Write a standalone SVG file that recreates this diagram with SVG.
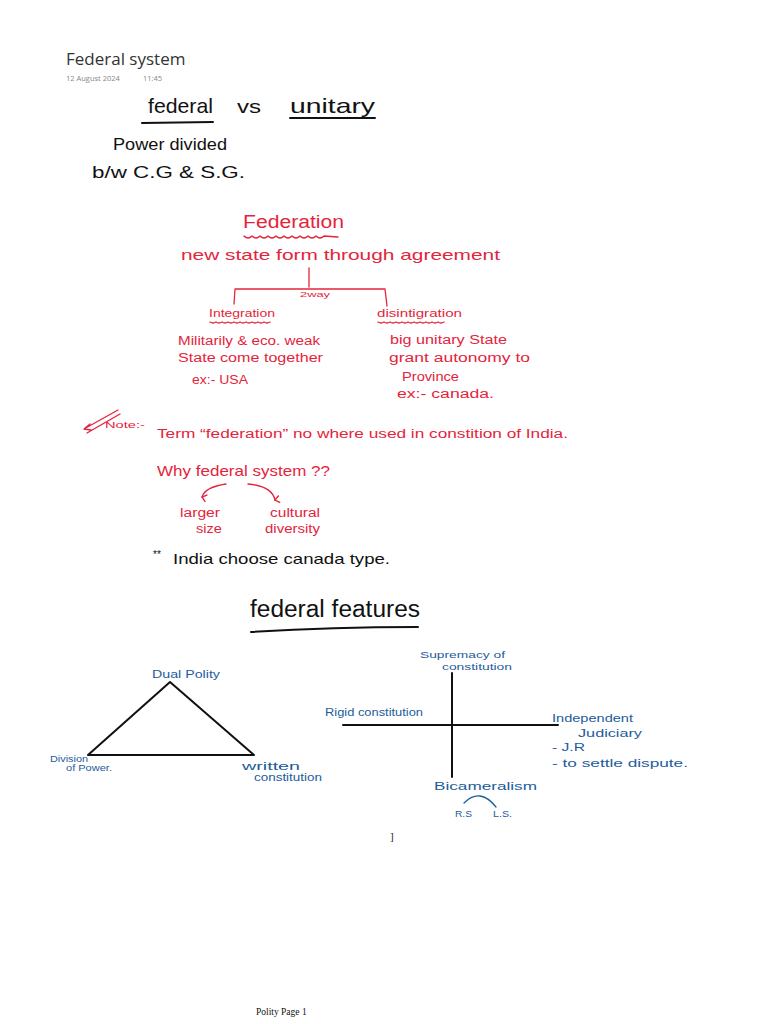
<svg xmlns="http://www.w3.org/2000/svg" width="768" height="1024" viewBox="0 0 768 1024">
<style>
.hd{font-family:"Liberation Sans","Open Sans",sans-serif}
.k{fill:#111}
.r{fill:#e5243b}
.b{fill:#1d5c9c}
.ln{fill:none;stroke-linecap:round;stroke-linejoin:round}
.rs{stroke:#e5243b;stroke-width:1.3}
.bs{stroke:#1d5c9c;stroke-width:1.3}
.ks{stroke:#111;stroke-width:2}
</style>
<defs>
<marker id="ah" viewBox="0 0 10 10" refX="5" refY="8" markerWidth="7" markerHeight="7" orient="auto-start-reverse">
<path d="M1,3 L5,8 L9,3" fill="none" stroke="#e5243b" stroke-width="1.5"/>
</marker>
</defs>
<rect width="768" height="1024" fill="#fff"/>

<g id="header">
<text x="66" y="65" font-family="'Open Sans','Liberation Sans',sans-serif" font-size="17" fill="#333">Federal system</text>
<text x="66" y="81" font-family="'Open Sans','Liberation Sans',sans-serif" font-size="7.5" fill="#888">12 August 2024</text>
<text x="143" y="81" font-family="'Open Sans','Liberation Sans',sans-serif" font-size="7.5" fill="#888">11:45</text>
</g>

<g id="title1" class="hd k">
<text x="148" y="113" font-size="21" textLength="65" lengthAdjust="spacingAndGlyphs">federal</text>
<text x="237" y="113" font-size="18" textLength="24" lengthAdjust="spacingAndGlyphs">vs</text>
<text x="290" y="113" font-size="21" textLength="85" lengthAdjust="spacingAndGlyphs">unitary</text>
<path class="ln ks" d="M142,123 L213,122 M290,118 L375,118" stroke-width="1.6"/>
</g>

<g id="power" class="hd k">
<text x="113" y="150" font-size="17" textLength="114" lengthAdjust="spacingAndGlyphs">Power divided</text>
<text x="92" y="178" font-size="17" textLength="153" lengthAdjust="spacingAndGlyphs">b/w  C.G &amp; S.G.</text>
</g>

<g id="federation" class="hd r">
<text x="243" y="228" font-size="18" textLength="101" lengthAdjust="spacingAndGlyphs">Federation</text>
<path class="ln rs" d="M244,236 q4,4 8,0 q4,4 8,0 q4,4 8,0 q4,4 8,0 q4,4 8,0 q4,4 8,0 q4,4 8,0 q4,4 8,0 q4,4 8,0 q4,4 8,0 L338,237"/>
<text x="181" y="260" font-size="15" textLength="319" lengthAdjust="spacingAndGlyphs">new state form through agreement</text>
</g>

<g id="integration" class="hd r">
<text x="209" y="317" font-size="11" textLength="66" lengthAdjust="spacingAndGlyphs">Integration</text>
<path class="ln rs" d="M210,322 q3,2 6,0 q3,2 6,0 q3,2 6,0 q3,2 6,0 q3,2 6,0 q3,2 6,0 q3,2 6,0 q3,2 6,0 q3,2 6,0 q3,2 6,0" stroke-width="1"/>
<text x="178" y="345" font-size="12" textLength="142" lengthAdjust="spacingAndGlyphs">Militarily &amp; eco. weak</text>
<text x="178" y="362" font-size="12" textLength="145" lengthAdjust="spacingAndGlyphs">State come together</text>
<text x="192" y="384" font-size="12" textLength="56" lengthAdjust="spacingAndGlyphs">ex:- USA</text>
</g>

<g id="disintegration" class="hd r">
<text x="377" y="317" font-size="11" textLength="85" lengthAdjust="spacingAndGlyphs">disintigration</text>
<path class="ln rs" d="M378,322 q3,2 6,0 q3,2 6,0 q3,2 6,0 q3,2 6,0 q3,2 6,0 q3,2 6,0 q3,2 6,0 q3,2 6,0 q3,2 6,0 q3,2 6,0 q3,2 6,0" stroke-width="1"/>
<text x="390" y="344" font-size="12" textLength="117" lengthAdjust="spacingAndGlyphs">big unitary State</text>
<text x="389" y="362" font-size="12" textLength="141" lengthAdjust="spacingAndGlyphs">grant autonomy to</text>
<text x="402" y="381" font-size="12" textLength="57" lengthAdjust="spacingAndGlyphs">Province</text>
<text x="397" y="398" font-size="12" textLength="97" lengthAdjust="spacingAndGlyphs">ex:- canada.</text>
</g>

<g id="note" class="hd r">
<path class="ln rs" d="M84,429 L118,410 M87,433 L120,414 M84,429 L90,424 M84,429 L91,430"/>
<text x="105" y="428" font-size="9" textLength="40" lengthAdjust="spacingAndGlyphs">Note:-</text>
<text x="157" y="438" font-size="12.5" textLength="411" lengthAdjust="spacingAndGlyphs">Term “federation” no where used in  constition of India.</text>
</g>

<g id="why" class="hd r">
<text x="157" y="476" font-size="15" textLength="173" lengthAdjust="spacingAndGlyphs">Why federal system ??</text>
<text x="180" y="517" font-size="12" textLength="40" lengthAdjust="spacingAndGlyphs">larger</text>
<text x="196" y="533" font-size="12" textLength="26" lengthAdjust="spacingAndGlyphs">size</text>
<text x="270" y="517" font-size="12" textLength="50" lengthAdjust="spacingAndGlyphs">cultural</text>
<text x="265" y="533" font-size="12" textLength="55" lengthAdjust="spacingAndGlyphs">diversity</text>
</g>

<g id="india" class="hd k">
<text x="153" y="558" font-size="10">**</text>
<text x="173" y="564" font-size="15" textLength="217" lengthAdjust="spacingAndGlyphs">India  choose canada type.</text>
</g>

<g id="features" class="hd k">
<text x="250" y="617" font-size="23" textLength="170" lengthAdjust="spacingAndGlyphs">federal features</text>
<path class="ln ks" d="M251,632 Q330,627 418,627" stroke-width="1.8"/>
</g>

<g id="triangle-labels" class="hd b">
<text x="152" y="678" font-size="10" textLength="68" lengthAdjust="spacingAndGlyphs">Dual Polity</text>
<text x="50" y="762" font-size="9" textLength="38" lengthAdjust="spacingAndGlyphs">Division</text>
<text x="66" y="771" font-size="9" textLength="46" lengthAdjust="spacingAndGlyphs">of Power.</text>
<text x="242" y="770" font-size="10" textLength="58" lengthAdjust="spacingAndGlyphs">written</text>
<text x="254" y="781" font-size="10" textLength="68" lengthAdjust="spacingAndGlyphs">constitution</text>
</g>

<g id="cross-labels" class="hd b">
<text x="420" y="658" font-size="9" textLength="85" lengthAdjust="spacingAndGlyphs">Supremacy of</text>
<text x="442" y="670" font-size="9" textLength="70" lengthAdjust="spacingAndGlyphs">constitution</text>
<text x="325" y="716" font-size="10" textLength="98" lengthAdjust="spacingAndGlyphs">Rigid constitution</text>
<text x="552" y="722" font-size="10" textLength="81" lengthAdjust="spacingAndGlyphs">Independent</text>
<text x="578" y="737" font-size="10" textLength="64" lengthAdjust="spacingAndGlyphs">Judiciary</text>
<text x="552" y="751" font-size="10" textLength="33" lengthAdjust="spacingAndGlyphs">- J.R</text>
<text x="552" y="767" font-size="10" textLength="136" lengthAdjust="spacingAndGlyphs">- to settle dispute.</text>
<text x="434" y="790" font-size="11" textLength="103" lengthAdjust="spacingAndGlyphs">Bicameralism</text>
<text x="455" y="817" font-size="9" textLength="17" lengthAdjust="spacingAndGlyphs">R.S</text>
<text x="493" y="817" font-size="9" textLength="19" lengthAdjust="spacingAndGlyphs">L.S.</text>
</g>

<g id="connectors">
<path class="ln rs" d="M309,268 L309,287 M234,304 L235,289 L385,289 L387,306"/>
<text x="300" y="297" class="hd r" font-size="7" textLength="30" lengthAdjust="spacingAndGlyphs">2way</text>
<path class="ln rs" d="M226,484 Q205,487 202,497" marker-end="url(#ah)"/>
<path class="ln rs" d="M248,484 Q272,486 275,500" marker-end="url(#ah)"/>
<path class="ln ks" d="M170,682 L88,755 L254,755 Z" stroke-width="1.8"/>
<path class="ln ks" d="M452,673 L452,777 M343,725 L558,725" stroke-width="1.8"/>
<path class="ln bs" d="M464,803 Q480,787 496,807"/>
</g>

<g id="footer">
<text x="390" y="840" font-family="'Liberation Serif',serif" font-size="11" fill="#222">]</text>
<text x="256" y="1015" font-family="'Liberation Serif',serif" font-size="9.5" fill="#111">Polity Page 1</text>
</g>
</svg>
